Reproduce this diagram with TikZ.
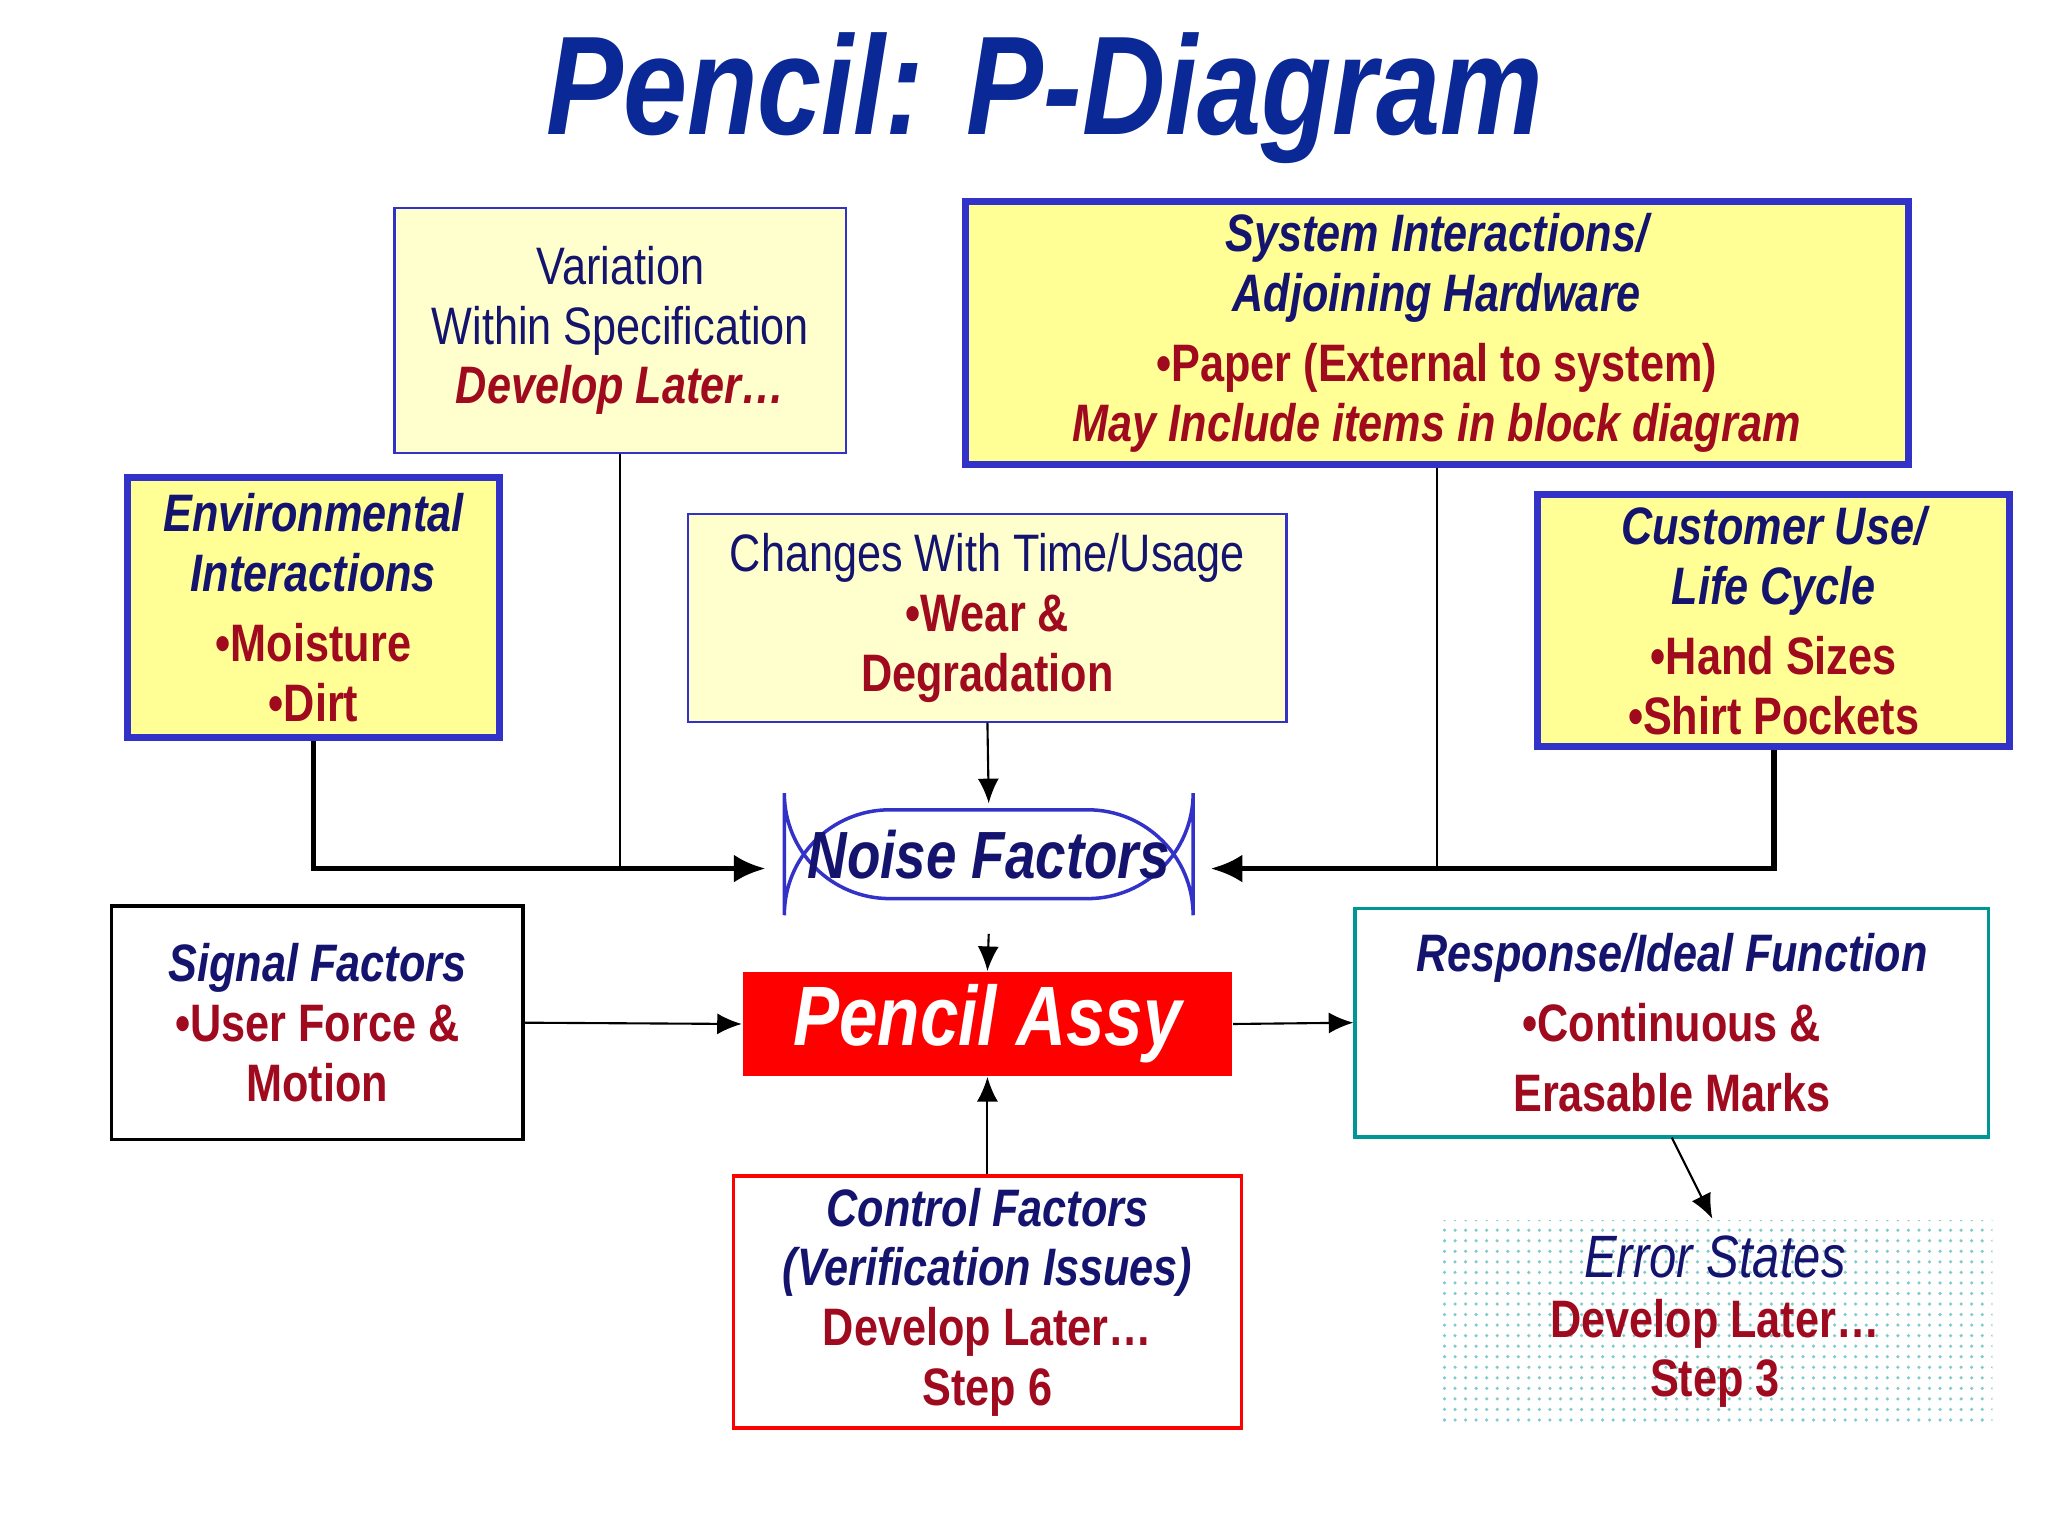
\documentclass[tikz,border=0pt]{standalone}
\usepackage{fontspec}
\setmainfont{Liberation Sans}[FakeStretch=0.82]
\usetikzlibrary{patterns,arrows.meta}
\definecolor{navy}{RGB}{20,20,110}
\definecolor{dred}{RGB}{160,10,30}
\definecolor{tblue}{RGB}{10,40,150}
\definecolor{bblue}{RGB}{50,50,200}
\definecolor{lyel}{RGB}{255,255,205}
\definecolor{yel}{RGB}{255,255,150}
\definecolor{teal2}{RGB}{0,150,150}
\begin{document}
\begin{tikzpicture}[x=0.01306cm,y=-0.01306cm,
 T/.style={font=\fontsize{15}{17}\selectfont},
 thin box/.style={draw=bblue,line width=0.6pt,fill=lyel,align=center,T},
 thick box/.style={draw=bblue,line width=2pt,fill=yel,align=center,T},
 arr/.style={-{Latex[length=7pt,width=6pt]},line width=0.6pt},
 tarr/.style={-{Latex[length=9pt,width=8pt]},line width=1.6pt}]
\newcommand{\nv}[1]{\textcolor{navy}{#1}}
\newcommand{\nb}[1]{\textcolor{navy}{\bfseries\itshape #1}}
\newcommand{\rb}[1]{\textcolor{dred}{\bfseries #1}}
\newcommand{\rbi}[1]{\textcolor{dred}{\bfseries\itshape #1}}
\useasboundingbox (0,0) rectangle (1568,1176);
\fill[white] (0,0) rectangle (1568,1176);
\node (title) at (800,75) {\fontsize{40}{44}\selectfont\bfseries\itshape\textcolor{tblue}{Pencil: P-Diagram}};
\node[thin box,minimum width=346*0.01306cm,minimum height=187*0.01306cm] (var) at (475,253)
 {\nv{Variation}\\\nv{Within Specification}\\\rbi{Develop Later…}};
\node[thick box,minimum width=722*0.01306cm,minimum height=194*0.01306cm] (sys) at (1100,255)
 {\nb{System Interactions/}\\\nb{Adjoining Hardware}\\[3pt]\rb{•Paper (External to system)}\\\rbi{May Include items in block diagram}};
\node[thick box,minimum width=285*0.01306cm,minimum height=199*0.01306cm] (env) at (240,465)
 {\nb{Environmental}\\\nb{Interactions}\\[3pt]\rb{•Moisture}\\\rb{•Dirt}};
\node[thin box,minimum width=458*0.01306cm,minimum height=159*0.01306cm] (chg) at (756,473)
 {\nv{Changes With Time/Usage}\\\rb{•Wear \&}\\\rb{Degradation}};
\node[thick box,minimum width=361*0.01306cm,minimum height=193*0.01306cm] (cus) at (1358,475)
 {\nb{Customer Use/}\\\nb{Life Cycle}\\[3pt]\rb{•Hand Sizes}\\\rb{•Shirt Pockets}};
\node[draw=bblue,line width=1pt,fill=white,rounded corners=30pt,minimum width=313*0.01306cm,minimum height=68*0.01306cm,font=\fontsize{19}{21}\selectfont] (noise) at (757,654) {\nb{Noise Factors}};
\node[draw=black,line width=1pt,minimum width=315*0.01306cm,minimum height=179*0.01306cm,align=center,T] (sig) at (243,783)
 {\nb{Signal Factors}\\\rb{•User Force \&}\\\rb{Motion}};
\node[fill=red,minimum width=375*0.01306cm,minimum height=80*0.01306cm,font=\fontsize{24}{26}\selectfont\bfseries\itshape,text=white] (pen) at (756,784) {Pencil Assy};
\node[draw=teal2,line width=1pt,minimum width=485*0.01306cm,minimum height=175*0.01306cm,align=center,T] (resp) at (1280,783)
 {\nb{Response/Ideal Function}\\[3pt]\rb{•Continuous \&}\\[3pt]\rb{Erasable Marks}};
\node[draw=red,line width=1pt,minimum width=389*0.01306cm,minimum height=193*0.01306cm,align=center,T] (ctl) at (756,997)
 {\nb{Control Factors}\\\nb{(Verification Issues)}\\\rb{Develop Later…}\\\rb{Step 6}};
\node[pattern=dots,pattern color=teal2!50,minimum width=425*0.01306cm,minimum height=155*0.01306cm,align=center,T] (err) at (1313,1012) {};
\node[align=center,T] (errt) at (1313,1012)
 {\textcolor{navy}{\itshape\fontsize{17}{19}\selectfont Error States}\\\rb{Develop Later…}\\\rb{Step 3}};
% connectors
\coordinate (nl) at (586,665); \coordinate (nr) at (927,665);
\draw[tarr] (env.south) |- (nl);
\draw[line width=0.6pt] (var.south) -- (var.south |- nl);
\draw[line width=0.6pt] (sys.south -| 1100,0) -- (1100,665);
\draw[tarr] (cus.south) |- (nr);
\draw[arr] (chg.south) -- (757,615);
\draw[arr] (757,715) -- (pen.north);
\draw[arr] (sig.east) -- (pen.west);
\draw[arr] (pen.east) -- (resp.west);
\draw[arr] (ctl.north) -- (pen.south);
\draw[arr] (1280,871) -- (1311,933);
\end{tikzpicture}
\end{document}
